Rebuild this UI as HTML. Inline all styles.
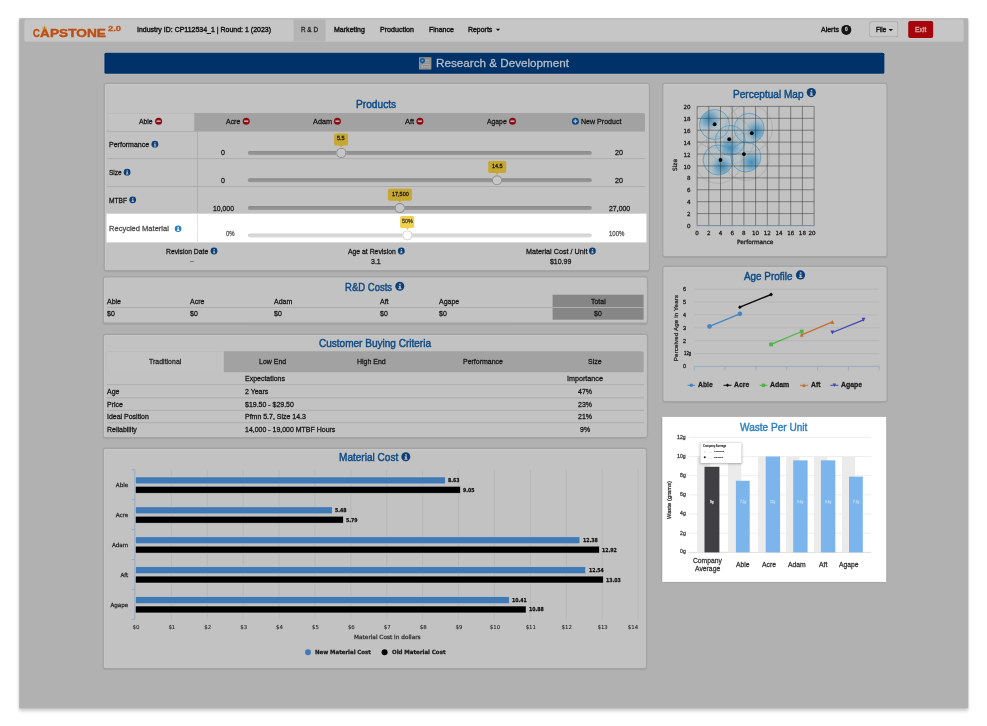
<!DOCTYPE html>
<html lang="en"><head><meta charset="utf-8"><title>Capstone 2.0 - Research &amp; Development</title>
<style>
html,body{margin:0;padding:0;background:#fff;}
body{width:987px;height:726px;overflow:hidden;position:relative;font-family:"Liberation Sans",sans-serif;}
#root{position:absolute;left:0;top:0;width:987px;height:726px;overflow:hidden;filter:blur(.35px);}
#root div,#root span,#root svg{position:absolute;left:0;top:0;}
#root svg{overflow:visible;}
.t{white-space:nowrap;line-height:1;-webkit-text-stroke:.28px currentColor;}
</style></head>
<body><div id="root">
<div style="transform:translate(19.30px,18.30px);width:948.60px;height:690.40px;background:#b1b1b1;box-shadow:0 2.2px 3.2px rgba(0,0,0,.2),0 0 1.6px rgba(0,0,0,.22);"></div>
<div style="transform:translate(24.50px,19.60px);width:939.00px;height:22.20px;background:#c6c6c6;border-radius:2px;box-shadow:0 0 0 .5px #b9b9b9;"></div>
<div style="transform:translate(293.50px,19.50px);width:31.70px;height:22.20px;background:#b4b4b4;"></div>
<div><span class="t" style="font-size:10.2px;font-weight:700;color:#bf4e10;font-family:'Liberation Sans', sans-serif;transform:scaleX(0.9240);transform-origin:0 50%;left:32.70px;top:28.60px;-webkit-text-stroke:.4px #bf4e10;">C</span><span class="t" style="font-size:10.2px;font-weight:700;color:#bf4e10;font-family:'Liberation Sans', sans-serif;transform:scaleX(1.3180);transform-origin:0 50%;left:39.50px;top:28.60px;-webkit-text-stroke:.4px #bf4e10;">A</span><span class="t" style="font-size:10.2px;font-weight:700;color:#bf4e10;font-family:'Liberation Sans', sans-serif;transform:scaleX(1.3399);transform-origin:0 50%;left:49.50px;top:28.60px;-webkit-text-stroke:.4px #bf4e10;">PSTONE</span></div>
<span class="t" style="font-size:7.8px;font-weight:700;color:#c0500f;font-family:'Liberation Sans', sans-serif;transform:scaleX(1.1988);transform-origin:0 50%;left:108.20px;top:24.58px;">2.0</span>
<svg style="transform:translate(41.5px,24.9px);" width="6" height="5" viewBox="0 0 6 5"><path d="M3 0.3 L5.6 4.4 L0.4 4.4 Z" fill="#d8a32c"/><circle cx="3" cy="3.1" r="0.75" fill="#c5521a"/></svg>
<span class="t" style="font-size:7.5px;font-weight:400;color:#151515;font-family:'Liberation Sans', sans-serif;transform:scaleX(0.9307);transform-origin:0 50%;left:137.20px;top:25.62px;-webkit-text-stroke:.42px #151515;">Industry ID: CP112534_1 | Round: 1 (2023)</span>
<span class="t" style="font-size:7.3px;font-weight:400;color:#222222;font-family:'Liberation Sans', sans-serif;transform:scaleX(0.8732);transform-origin:0 50%;left:301.00px;top:25.83px;">R &amp; D</span>
<span class="t" style="font-size:7.5px;font-weight:400;color:#151515;font-family:'Liberation Sans', sans-serif;transform:scaleX(0.9381);transform-origin:0 50%;left:333.50px;top:25.62px;-webkit-text-stroke:.42px #151515;">Marketing</span>
<span class="t" style="font-size:7.5px;font-weight:400;color:#151515;font-family:'Liberation Sans', sans-serif;transform:scaleX(0.9454);transform-origin:0 50%;left:379.80px;top:25.62px;-webkit-text-stroke:.42px #151515;">Production</span>
<span class="t" style="font-size:7.5px;font-weight:400;color:#151515;font-family:'Liberation Sans', sans-serif;transform:scaleX(0.9293);transform-origin:0 50%;left:428.90px;top:25.62px;-webkit-text-stroke:.42px #151515;">Finance</span>
<span class="t" style="font-size:7.5px;font-weight:400;color:#151515;font-family:'Liberation Sans', sans-serif;transform:scaleX(0.9252);transform-origin:0 50%;left:468.40px;top:25.62px;-webkit-text-stroke:.42px #151515;">Reports</span>
<svg style="transform:translate(495.5px,28.5px);" width="5" height="3" viewBox="0 0 5 3"><path d="M0.3 0.3 L4.7 0.3 L2.5 2.6 Z" fill="#151515"/></svg>
<span class="t" style="font-size:7.5px;font-weight:400;color:#151515;font-family:'Liberation Sans', sans-serif;transform:scaleX(0.9337);transform-origin:0 50%;left:821.00px;top:25.82px;-webkit-text-stroke:.42px #151515;">Alerts</span>
<div style="transform:translate(841.30px,24.90px);width:10.00px;height:10.00px;border-radius:50%;background:#161616;"></div>
<span class="t" style="font-size:5.2px;font-weight:700;color:#c8c8c8;font-family:'Liberation Sans', sans-serif;transform:scaleX(0.9300);transform-origin:0 50%;left:844.96px;top:27.45px;">0</span>
<div style="transform:translate(869.30px,21.30px);width:29.20px;height:16.40px;background:#c9c9c9;border-radius:2.5px;box-shadow:inset 0 0 0 .7px #9f9f9f;"></div>
<span class="t" style="font-size:7.5px;font-weight:400;color:#151515;font-family:'Liberation Sans', sans-serif;transform:scaleX(0.8599);transform-origin:0 50%;left:876.20px;top:25.72px;-webkit-text-stroke:.42px #151515;">File</span>
<svg style="transform:translate(888.3px,28.6px);" width="5" height="3" viewBox="0 0 5 3"><path d="M0.3 0.3 L4.7 0.3 L2.5 2.6 Z" fill="#151515"/></svg>
<div style="transform:translate(908.20px,20.90px);width:25.00px;height:16.80px;background:#a5060c;border-radius:2px;"></div>
<span class="t" style="font-size:7.2px;font-weight:400;color:#d9b5b5;font-family:'Liberation Sans', sans-serif;transform:scaleX(0.9429);transform-origin:0 50%;left:915.00px;top:25.78px;">Exit</span>
<div style="transform:translate(104.40px,52.70px);width:779.50px;height:20.60px;background:#00326a;border-radius:1.5px;box-shadow:0 0 0 .8px rgba(200,200,200,.35);"></div>
<svg style="transform:translate(419.0px,57.2px);" width="12.4" height="12.2" viewBox="0 0 12.4 12.2"><rect x="0" y="0" width="12.4" height="12.2" rx="0.6" fill="#9c9a97"/><rect x="0.9" y="0.9" width="10.6" height="10.4" fill="#8f8e8c"/><rect x="5.8" y="2.6" width="4.6" height="0.9" fill="#aeadab"/><rect x="5.8" y="4.4" width="4.6" height="0.9" fill="#a5a4a2"/><path d="M3.3 11 V7.1 H10.2 V11" fill="none" stroke="#b9b8b5" stroke-width="0.8"/><rect x="4.6" y="8.8" width="4.4" height="1.6" fill="#a3a2a0"/><circle cx="3.4" cy="3.4" r="2.6" fill="#185a94"/><circle cx="3.4" cy="3.4" r="1.0" fill="#6f9cc4"/><rect x="3.0" y="5.8" width="0.8" height="1.4" fill="#185a94"/></svg>
<span class="t" style="font-size:11.7px;font-weight:400;color:#b7bfc9;font-family:'Liberation Sans', sans-serif;transform:scaleX(0.9993);transform-origin:0 50%;left:436.10px;top:56.70px;">Research &amp; Development</span>
<div style="transform:translate(104.90px,84.00px);width:544.30px;height:185.60px;background:#c2c2c2;border-radius:1.6px;box-shadow:0 0 0 1.3px #a3a3a3,0 1.6px 1.2px rgba(0,0,0,.08),inset .8px .8px 0 rgba(255,255,255,.12);"></div>
<span class="t" style="font-size:10.7px;font-weight:400;color:#0f4c86;font-family:'Liberation Sans', sans-serif;transform:scaleX(0.9529);transform-origin:0 50%;left:356.20px;top:99.23px;-webkit-text-stroke:.45px #0f4c86;">Products</span>
<div style="transform:translate(194.00px,113.00px);width:451.00px;height:18.20px;background:#a2a2a2;border-radius:0 2px 0 0;"></div>
<div style="transform:translate(107.30px,113.00px);width:86.70px;height:18.60px;background:#c3c3c3;box-shadow:inset .8px .8px 0 0 #b8b8b8, inset -0.6px 0 0 #b8b8b8;border-radius:1.5px 1.5px 0 0;"></div>
<span class="t" style="font-size:7.5px;font-weight:400;color:#151515;font-family:'Liberation Sans', sans-serif;transform:scaleX(0.9057);transform-origin:0 50%;left:139.40px;top:118.43px;">Able</span>
<svg style="transform:translate(155.1px,117.7px);" width="7.0" height="7.0" viewBox="0 0 7.0 7.0"><circle cx="3.5" cy="3.5" r="3.5" fill="#8e0a10"/><rect x="1.47" y="2.73" width="4.06" height="1.54" fill="#bababa"/></svg>
<span class="t" style="font-size:7.5px;font-weight:400;color:#151515;font-family:'Liberation Sans', sans-serif;transform:scaleX(0.9273);transform-origin:0 50%;left:226.10px;top:118.43px;">Acre</span>
<svg style="transform:translate(242.7px,117.7px);" width="7.0" height="7.0" viewBox="0 0 7.0 7.0"><circle cx="3.5" cy="3.5" r="3.5" fill="#8e0a10"/><rect x="1.47" y="2.73" width="4.06" height="1.54" fill="#bababa"/></svg>
<span class="t" style="font-size:7.5px;font-weight:400;color:#151515;font-family:'Liberation Sans', sans-serif;transform:scaleX(0.9748);transform-origin:0 50%;left:313.40px;top:118.43px;">Adam</span>
<svg style="transform:translate(333.9px,117.7px);" width="7.0" height="7.0" viewBox="0 0 7.0 7.0"><circle cx="3.5" cy="3.5" r="3.5" fill="#8e0a10"/><rect x="1.47" y="2.73" width="4.06" height="1.54" fill="#bababa"/></svg>
<span class="t" style="font-size:7.5px;font-weight:400;color:#151515;font-family:'Liberation Sans', sans-serif;transform:scaleX(0.9922);transform-origin:0 50%;left:404.90px;top:118.43px;">Aft</span>
<svg style="transform:translate(416.4px,117.7px);" width="7.0" height="7.0" viewBox="0 0 7.0 7.0"><circle cx="3.5" cy="3.5" r="3.5" fill="#8e0a10"/><rect x="1.47" y="2.73" width="4.06" height="1.54" fill="#bababa"/></svg>
<span class="t" style="font-size:7.5px;font-weight:400;color:#151515;font-family:'Liberation Sans', sans-serif;transform:scaleX(0.9084);transform-origin:0 50%;left:487.00px;top:118.43px;">Agape</span>
<svg style="transform:translate(509.0px,117.7px);" width="7.0" height="7.0" viewBox="0 0 7.0 7.0"><circle cx="3.5" cy="3.5" r="3.5" fill="#8e0a10"/><rect x="1.47" y="2.73" width="4.06" height="1.54" fill="#bababa"/></svg>
<svg style="transform:translate(571.9px,117.7px);" width="7.0" height="7.0" viewBox="0 0 7.0 7.0"><circle cx="3.5" cy="3.5" r="3.5" fill="#0b4888"/><rect x="1.47" y="2.80" width="4.06" height="1.40" fill="#b4b4b4"/><rect x="2.80" y="1.47" width="1.40" height="4.06" fill="#b4b4b4"/></svg>
<span class="t" style="font-size:7.5px;font-weight:400;color:#151515;font-family:'Liberation Sans', sans-serif;transform:scaleX(0.9409);transform-origin:0 50%;left:581.20px;top:118.43px;">New Product</span>
<div style="transform:translate(107.30px,130.90px);width:537.70px;height:0.80px;background:#adadad;"></div>
<div style="transform:translate(107.30px,158.10px);width:537.70px;height:0.80px;background:#adadad;"></div>
<div style="transform:translate(107.30px,186.00px);width:537.70px;height:0.80px;background:#adadad;"></div>
<div style="transform:translate(107.30px,213.60px);width:537.70px;height:0.80px;background:#adadad;"></div>
<div style="transform:translate(197.00px,131.50px);width:0.80px;height:111.00px;background:#adadad;"></div>
<div style="transform:translate(106.40px,213.60px);width:539.60px;height:29.00px;background:#ffffff;box-shadow:0 .6px 1px rgba(0,0,0,.18);"></div>
<div style="transform:translate(197.00px,213.00px);width:0.70px;height:29.50px;background:#e4e4e4;"></div>
<span class="t" style="font-size:7.5px;font-weight:400;color:#151515;font-family:'Liberation Sans', sans-serif;transform:scaleX(0.9362);transform-origin:0 50%;left:108.90px;top:140.93px;">Performance</span>
<svg style="transform:translate(151.5px,140.8px);" width="6.8" height="6.8" viewBox="0 0 6.8 6.8"><circle cx="3.4" cy="3.4" r="3.4" fill="#0b3f78"/><rect x="2.92" y="1.43" width="1.22" height="1.16" fill="#b9b9b9"/><path d="M2.45 3.06 H4.22 V4.93 H4.76 V5.71 H2.24 V4.93 H2.86 V3.81 H2.45 Z" fill="#b9b9b9"/></svg>
<span class="t" style="font-size:7.5px;font-weight:400;color:#151515;font-family:'Liberation Sans', sans-serif;transform:scaleX(0.8634);transform-origin:0 50%;left:108.90px;top:169.12px;">Size</span>
<svg style="transform:translate(123.7px,168.8px);" width="6.8" height="6.8" viewBox="0 0 6.8 6.8"><circle cx="3.4" cy="3.4" r="3.4" fill="#0b3f78"/><rect x="2.92" y="1.43" width="1.22" height="1.16" fill="#b9b9b9"/><path d="M2.45 3.06 H4.22 V4.93 H4.76 V5.71 H2.24 V4.93 H2.86 V3.81 H2.45 Z" fill="#b9b9b9"/></svg>
<span class="t" style="font-size:7.5px;font-weight:400;color:#151515;font-family:'Liberation Sans', sans-serif;transform:scaleX(0.8863);transform-origin:0 50%;left:108.90px;top:196.53px;">MTBF</span>
<svg style="transform:translate(129.3px,196.4px);" width="6.8" height="6.8" viewBox="0 0 6.8 6.8"><circle cx="3.4" cy="3.4" r="3.4" fill="#0b3f78"/><rect x="2.92" y="1.43" width="1.22" height="1.16" fill="#b9b9b9"/><path d="M2.45 3.06 H4.22 V4.93 H4.76 V5.71 H2.24 V4.93 H2.86 V3.81 H2.45 Z" fill="#b9b9b9"/></svg>
<span class="t" style="font-size:7.9px;font-weight:400;color:#4d4d4d;font-family:'Liberation Sans', sans-serif;transform:scaleX(0.9551);transform-origin:0 50%;left:108.50px;top:224.51px;">Recycled Material</span>
<svg style="transform:translate(174.8px,225.5px);" width="6.6" height="6.6" viewBox="0 0 6.6 6.6"><circle cx="3.3" cy="3.3" r="3.3" fill="#2b7fc6"/><rect x="2.84" y="1.39" width="1.19" height="1.12" fill="#ffffff"/><path d="M2.38 2.97 H4.09 V4.78 H4.62 V5.54 H2.18 V4.78 H2.77 V3.70 H2.38 Z" fill="#ffffff"/></svg>
<div style="transform:translate(247.80px,150.90px);width:344.10px;height:4.10px;background:linear-gradient(#8a8a8a,#9a9a9a);border-radius:2px;"></div>
<div style="transform:translate(336.30px,147.90px);width:10.00px;height:10.00px;border-radius:50%;background:#c6c6c6;box-shadow:inset 0 0 0 .9px #8a8a8a;"></div>
<div style="transform:translate(334.10px,133.50px);width:14.30px;height:11.50px;background:#c6a730;border-radius:1.6px;"></div>
<svg style="transform:translate(339.1px,144.8px);" width="4.4" height="3" viewBox="0 0 4.4 3"><path d="M0 0 H4.4 L2.2 2.6 Z" fill="#c6a730"/></svg>
<span class="t" style="font-size:5.9px;font-weight:400;color:#1d1a10;font-family:'Liberation Sans', sans-serif;transform:scaleX(0.9300);transform-origin:0 50%;left:337.44px;top:136.46px;-webkit-text-stroke:.3px currentColor;">5.5</span>
<span class="t" style="font-size:7.6px;font-weight:400;color:#151515;font-family:'Liberation Sans', sans-serif;transform:scaleX(0.9300);transform-origin:0 50%;left:220.80px;top:149.37px;">0</span>
<span class="t" style="font-size:7.6px;font-weight:400;color:#151515;font-family:'Liberation Sans', sans-serif;transform:scaleX(0.9346);transform-origin:0 50%;left:614.70px;top:149.37px;">20</span>
<div style="transform:translate(247.80px,178.30px);width:344.10px;height:4.10px;background:linear-gradient(#8a8a8a,#9a9a9a);border-radius:2px;"></div>
<div style="transform:translate(492.00px,175.30px);width:10.00px;height:10.00px;border-radius:50%;background:#c6c6c6;box-shadow:inset 0 0 0 .9px #8a8a8a;"></div>
<div style="transform:translate(488.20px,160.90px);width:17.90px;height:11.50px;background:#c6a730;border-radius:1.6px;"></div>
<svg style="transform:translate(494.8px,172.2px);" width="4.4" height="3" viewBox="0 0 4.4 3"><path d="M0 0 H4.4 L2.2 2.6 Z" fill="#c6a730"/></svg>
<span class="t" style="font-size:5.9px;font-weight:400;color:#1d1a10;font-family:'Liberation Sans', sans-serif;transform:scaleX(0.9300);transform-origin:0 50%;left:491.82px;top:163.86px;-webkit-text-stroke:.3px currentColor;">14.5</span>
<span class="t" style="font-size:7.6px;font-weight:400;color:#151515;font-family:'Liberation Sans', sans-serif;transform:scaleX(0.9300);transform-origin:0 50%;left:220.80px;top:176.77px;">0</span>
<span class="t" style="font-size:7.6px;font-weight:400;color:#151515;font-family:'Liberation Sans', sans-serif;transform:scaleX(0.9346);transform-origin:0 50%;left:614.70px;top:176.77px;">20</span>
<div style="transform:translate(247.80px,206.10px);width:344.10px;height:4.10px;background:linear-gradient(#8a8a8a,#9a9a9a);border-radius:2px;"></div>
<div style="transform:translate(394.80px,203.10px);width:10.00px;height:10.00px;border-radius:50%;background:#c6c6c6;box-shadow:inset 0 0 0 .9px #8a8a8a;"></div>
<div style="transform:translate(387.90px,188.70px);width:24.30px;height:11.50px;background:#c6a730;border-radius:1.6px;"></div>
<svg style="transform:translate(397.6px,200.0px);" width="4.4" height="3" viewBox="0 0 4.4 3"><path d="M0 0 H4.4 L2.2 2.6 Z" fill="#c6a730"/></svg>
<span class="t" style="font-size:5.9px;font-weight:400;color:#1d1a10;font-family:'Liberation Sans', sans-serif;transform:scaleX(0.9300);transform-origin:0 50%;left:391.67px;top:191.66px;-webkit-text-stroke:.3px currentColor;">17,500</span>
<span class="t" style="font-size:7.6px;font-weight:400;color:#151515;font-family:'Liberation Sans', sans-serif;transform:scaleX(0.9038);transform-origin:0 50%;left:212.60px;top:204.57px;">10,000</span>
<span class="t" style="font-size:7.6px;font-weight:400;color:#151515;font-family:'Liberation Sans', sans-serif;transform:scaleX(0.9124);transform-origin:0 50%;left:608.60px;top:204.57px;">27,000</span>
<div style="transform:translate(247.80px,233.40px);width:344.10px;height:4.10px;background:linear-gradient(#d0d0d0,#dcdcdc);border-radius:2px;"></div>
<div style="transform:translate(402.40px,230.40px);width:10.00px;height:10.00px;border-radius:50%;background:#ffffff;box-shadow:inset 0 0 0 .9px #c9c9c9;"></div>
<div style="transform:translate(400.10px,216.00px);width:14.10px;height:11.50px;background:#f0d04e;border-radius:1.6px;"></div>
<svg style="transform:translate(405.2px,227.3px);" width="4.4" height="3" viewBox="0 0 4.4 3"><path d="M0 0 H4.4 L2.2 2.6 Z" fill="#f0d04e"/></svg>
<span class="t" style="font-size:5.9px;font-weight:400;color:#4a4433;font-family:'Liberation Sans', sans-serif;transform:scaleX(0.9300);transform-origin:0 50%;left:401.66px;top:218.96px;-webkit-text-stroke:.3px currentColor;">50%</span>
<span class="t" style="font-size:7.0px;font-weight:400;color:#555555;font-family:'Liberation Sans', sans-serif;transform:scaleX(0.8593);transform-origin:0 50%;left:226.00px;top:229.89px;">0%</span>
<span class="t" style="font-size:7.0px;font-weight:400;color:#555555;font-family:'Liberation Sans', sans-serif;transform:scaleX(0.8600);transform-origin:0 50%;left:608.60px;top:229.89px;">100%</span>
<span class="t" style="font-size:7.5px;font-weight:400;color:#151515;font-family:'Liberation Sans', sans-serif;transform:scaleX(0.9036);transform-origin:0 50%;left:166.30px;top:247.72px;">Revision Date</span>
<svg style="transform:translate(210.6px,247.6px);" width="6.8" height="6.8" viewBox="0 0 6.8 6.8"><circle cx="3.4" cy="3.4" r="3.4" fill="#0b3f78"/><rect x="2.92" y="1.43" width="1.22" height="1.16" fill="#b9b9b9"/><path d="M2.45 3.06 H4.22 V4.93 H4.76 V5.71 H2.24 V4.93 H2.86 V3.81 H2.45 Z" fill="#b9b9b9"/></svg>
<span class="t" style="font-size:7.5px;font-weight:400;color:#333;font-family:'Liberation Sans', sans-serif;transform:scaleX(0.9300);transform-origin:0 50%;left:190.06px;top:257.32px;-webkit-text-stroke:0;">–</span>
<span class="t" style="font-size:7.5px;font-weight:400;color:#151515;font-family:'Liberation Sans', sans-serif;transform:scaleX(0.9118);transform-origin:0 50%;left:347.70px;top:247.72px;">Age at Revision</span>
<svg style="transform:translate(397.9px,247.6px);" width="6.8" height="6.8" viewBox="0 0 6.8 6.8"><circle cx="3.4" cy="3.4" r="3.4" fill="#0b3f78"/><rect x="2.92" y="1.43" width="1.22" height="1.16" fill="#b9b9b9"/><path d="M2.45 3.06 H4.22 V4.93 H4.76 V5.71 H2.24 V4.93 H2.86 V3.81 H2.45 Z" fill="#b9b9b9"/></svg>
<span class="t" style="font-size:7.5px;font-weight:400;color:#151515;font-family:'Liberation Sans', sans-serif;transform:scaleX(0.9300);transform-origin:0 50%;left:371.15px;top:257.62px;">3.1</span>
<span class="t" style="font-size:7.5px;font-weight:400;color:#151515;font-family:'Liberation Sans', sans-serif;transform:scaleX(0.9627);transform-origin:0 50%;left:525.90px;top:247.72px;">Material Cost / Unit</span>
<svg style="transform:translate(589.0px,247.6px);" width="6.8" height="6.8" viewBox="0 0 6.8 6.8"><circle cx="3.4" cy="3.4" r="3.4" fill="#0b3f78"/><rect x="2.92" y="1.43" width="1.22" height="1.16" fill="#b9b9b9"/><path d="M2.45 3.06 H4.22 V4.93 H4.76 V5.71 H2.24 V4.93 H2.86 V3.81 H2.45 Z" fill="#b9b9b9"/></svg>
<span class="t" style="font-size:7.5px;font-weight:400;color:#151515;font-family:'Liberation Sans', sans-serif;transform:scaleX(0.9280);transform-origin:0 50%;left:550.20px;top:257.62px;">$10.99</span>
<div style="transform:translate(103.90px,277.50px);width:542.70px;height:44.60px;background:#c2c2c2;border-radius:1.6px;box-shadow:0 0 0 1.3px #a3a3a3,0 1.6px 1.2px rgba(0,0,0,.08),inset .8px .8px 0 rgba(255,255,255,.12);"></div>
<span class="t" style="font-size:10.7px;font-weight:400;color:#0f4c86;font-family:'Liberation Sans', sans-serif;transform:scaleX(0.8910);transform-origin:0 50%;left:344.70px;top:281.53px;-webkit-text-stroke:.45px #0f4c86;">R&amp;D Costs</span>
<svg style="transform:translate(395.3px,281.7px);" width="9.0" height="9.0" viewBox="0 0 9.0 9.0"><circle cx="4.5" cy="4.5" r="4.5" fill="#0b3f78"/><rect x="3.87" y="1.89" width="1.62" height="1.53" fill="#b9b9b9"/><path d="M3.24 4.05 H5.58 V6.52 H6.30 V7.56 H2.97 V6.52 H3.78 V5.04 H3.24 Z" fill="#b9b9b9"/></svg>
<div style="transform:translate(552.60px,294.70px);width:91.20px;height:25.10px;background:#868686;"></div>
<div style="transform:translate(107.00px,307.00px);width:536.80px;height:0.80px;background:#adadad;"></div>
<span class="t" style="font-size:7.5px;font-weight:400;color:#151515;font-family:'Liberation Sans', sans-serif;transform:scaleX(0.9300);transform-origin:0 50%;left:107.00px;top:297.62px;">Able</span>
<span class="t" style="font-size:7.5px;font-weight:400;color:#151515;font-family:'Liberation Sans', sans-serif;transform:scaleX(0.9300);transform-origin:0 50%;left:107.00px;top:310.32px;">$0</span>
<span class="t" style="font-size:7.5px;font-weight:400;color:#151515;font-family:'Liberation Sans', sans-serif;transform:scaleX(0.9300);transform-origin:0 50%;left:189.70px;top:297.62px;">Acre</span>
<span class="t" style="font-size:7.5px;font-weight:400;color:#151515;font-family:'Liberation Sans', sans-serif;transform:scaleX(0.9300);transform-origin:0 50%;left:189.70px;top:310.32px;">$0</span>
<span class="t" style="font-size:7.5px;font-weight:400;color:#151515;font-family:'Liberation Sans', sans-serif;transform:scaleX(0.9300);transform-origin:0 50%;left:274.20px;top:297.62px;">Adam</span>
<span class="t" style="font-size:7.5px;font-weight:400;color:#151515;font-family:'Liberation Sans', sans-serif;transform:scaleX(0.9300);transform-origin:0 50%;left:274.20px;top:310.32px;">$0</span>
<span class="t" style="font-size:7.5px;font-weight:400;color:#151515;font-family:'Liberation Sans', sans-serif;transform:scaleX(0.9300);transform-origin:0 50%;left:380.20px;top:297.62px;">Aft</span>
<span class="t" style="font-size:7.5px;font-weight:400;color:#151515;font-family:'Liberation Sans', sans-serif;transform:scaleX(0.9300);transform-origin:0 50%;left:380.20px;top:310.32px;">$0</span>
<span class="t" style="font-size:7.5px;font-weight:400;color:#151515;font-family:'Liberation Sans', sans-serif;transform:scaleX(0.9300);transform-origin:0 50%;left:439.30px;top:297.62px;">Agape</span>
<span class="t" style="font-size:7.5px;font-weight:400;color:#151515;font-family:'Liberation Sans', sans-serif;transform:scaleX(0.9300);transform-origin:0 50%;left:439.30px;top:310.32px;">$0</span>
<span class="t" style="font-size:7.5px;font-weight:400;color:#151515;font-family:'Liberation Sans', sans-serif;transform:scaleX(0.9300);transform-origin:0 50%;left:590.83px;top:297.62px;">Total</span>
<span class="t" style="font-size:7.5px;font-weight:400;color:#151515;font-family:'Liberation Sans', sans-serif;transform:scaleX(0.9300);transform-origin:0 50%;left:594.32px;top:310.32px;">$0</span>
<div style="transform:translate(103.90px,334.90px);width:542.60px;height:102.10px;background:#c2c2c2;border-radius:1.6px;box-shadow:0 0 0 1.3px #a3a3a3,0 1.6px 1.2px rgba(0,0,0,.08),inset .8px .8px 0 rgba(255,255,255,.12);"></div>
<span class="t" style="font-size:10.7px;font-weight:400;color:#0f4c86;font-family:'Liberation Sans', sans-serif;transform:scaleX(0.9381);transform-origin:0 50%;left:318.80px;top:337.83px;-webkit-text-stroke:.45px #0f4c86;">Customer Buying Criteria</span>
<div style="transform:translate(223.70px,351.20px);width:420.10px;height:20.70px;background:#a2a2a2;border-radius:0 2px 0 0;"></div>
<div style="transform:translate(105.60px,351.20px);width:118.10px;height:21.00px;background:#c3c3c3;box-shadow:inset .8px .8px 0 0 #b8b8b8, inset -0.6px 0 0 #b8b8b8;border-radius:1.5px 1.5px 0 0;"></div>
<span class="t" style="font-size:7.5px;font-weight:400;color:#262626;font-family:'Liberation Sans', sans-serif;transform:scaleX(0.9300);transform-origin:0 50%;left:148.54px;top:357.92px;">Traditional</span>
<span class="t" style="font-size:7.5px;font-weight:400;color:#151515;font-family:'Liberation Sans', sans-serif;transform:scaleX(0.9300);transform-origin:0 50%;left:258.73px;top:357.92px;">Low End</span>
<span class="t" style="font-size:7.5px;font-weight:400;color:#151515;font-family:'Liberation Sans', sans-serif;transform:scaleX(0.9300);transform-origin:0 50%;left:356.75px;top:357.92px;">High End</span>
<span class="t" style="font-size:7.5px;font-weight:400;color:#151515;font-family:'Liberation Sans', sans-serif;transform:scaleX(0.9300);transform-origin:0 50%;left:463.33px;top:357.92px;">Performance</span>
<span class="t" style="font-size:7.5px;font-weight:400;color:#151515;font-family:'Liberation Sans', sans-serif;transform:scaleX(0.9300);transform-origin:0 50%;left:588.11px;top:357.92px;">Size</span>
<div style="transform:translate(107.00px,384.20px);width:536.80px;height:0.80px;background:#adadad;"></div>
<div style="transform:translate(107.00px,397.30px);width:536.80px;height:0.80px;background:#adadad;"></div>
<div style="transform:translate(107.00px,409.80px);width:536.80px;height:0.80px;background:#adadad;"></div>
<div style="transform:translate(107.00px,422.20px);width:536.80px;height:0.80px;background:#adadad;"></div>
<span class="t" style="font-size:7.5px;font-weight:400;color:#151515;font-family:'Liberation Sans', sans-serif;transform:scaleX(0.9300);transform-origin:0 50%;left:245.30px;top:374.82px;">Expectations</span>
<span class="t" style="font-size:7.5px;font-weight:400;color:#151515;font-family:'Liberation Sans', sans-serif;transform:scaleX(0.9565);transform-origin:0 50%;left:566.90px;top:374.82px;">Importance</span>
<span class="t" style="font-size:7.5px;font-weight:400;color:#151515;font-family:'Liberation Sans', sans-serif;transform:scaleX(0.9300);transform-origin:0 50%;left:107.00px;top:387.72px;">Age</span>
<span class="t" style="font-size:7.5px;font-weight:400;color:#151515;font-family:'Liberation Sans', sans-serif;transform:scaleX(0.9300);transform-origin:0 50%;left:245.30px;top:387.72px;">2 Years</span>
<span class="t" style="font-size:7.5px;font-weight:400;color:#151515;font-family:'Liberation Sans', sans-serif;transform:scaleX(0.9300);transform-origin:0 50%;left:577.62px;top:387.72px;">47%</span>
<span class="t" style="font-size:7.5px;font-weight:400;color:#151515;font-family:'Liberation Sans', sans-serif;transform:scaleX(0.9300);transform-origin:0 50%;left:107.00px;top:400.52px;">Price</span>
<span class="t" style="font-size:7.5px;font-weight:400;color:#151515;font-family:'Liberation Sans', sans-serif;transform:scaleX(0.9300);transform-origin:0 50%;left:245.30px;top:400.52px;">$19.50 - $29.50</span>
<span class="t" style="font-size:7.5px;font-weight:400;color:#151515;font-family:'Liberation Sans', sans-serif;transform:scaleX(0.9300);transform-origin:0 50%;left:577.62px;top:400.52px;">23%</span>
<span class="t" style="font-size:7.5px;font-weight:400;color:#151515;font-family:'Liberation Sans', sans-serif;transform:scaleX(0.9300);transform-origin:0 50%;left:107.00px;top:413.02px;">Ideal Position</span>
<span class="t" style="font-size:7.5px;font-weight:400;color:#151515;font-family:'Liberation Sans', sans-serif;transform:scaleX(0.9300);transform-origin:0 50%;left:245.30px;top:413.02px;">Pfmn 5.7, Size 14.3</span>
<span class="t" style="font-size:7.5px;font-weight:400;color:#151515;font-family:'Liberation Sans', sans-serif;transform:scaleX(0.9300);transform-origin:0 50%;left:577.62px;top:413.02px;">21%</span>
<span class="t" style="font-size:7.5px;font-weight:400;color:#151515;font-family:'Liberation Sans', sans-serif;transform:scaleX(0.9300);transform-origin:0 50%;left:107.00px;top:425.82px;">Reliability</span>
<span class="t" style="font-size:7.5px;font-weight:400;color:#151515;font-family:'Liberation Sans', sans-serif;transform:scaleX(0.9300);transform-origin:0 50%;left:245.30px;top:425.82px;">14,000 - 19,000 MTBF Hours</span>
<span class="t" style="font-size:7.5px;font-weight:400;color:#151515;font-family:'Liberation Sans', sans-serif;transform:scaleX(0.9300);transform-origin:0 50%;left:579.56px;top:425.82px;">9%</span>
<div style="transform:translate(103.90px,448.90px);width:542.10px;height:218.60px;background:#c2c2c2;border-radius:1.6px;box-shadow:0 0 0 1.3px #a3a3a3,0 1.6px 1.2px rgba(0,0,0,.08),inset .8px .8px 0 rgba(255,255,255,.12);"></div>
<span class="t" style="font-size:10.7px;font-weight:400;color:#0f4c86;font-family:'Liberation Sans', sans-serif;transform:scaleX(0.9417);transform-origin:0 50%;left:338.90px;top:451.63px;-webkit-text-stroke:.45px #0f4c86;">Material Cost</span>
<svg style="transform:translate(401.3px,452.3px);" width="9.0" height="9.0" viewBox="0 0 9.0 9.0"><circle cx="4.5" cy="4.5" r="4.5" fill="#0b3f78"/><rect x="3.87" y="1.89" width="1.62" height="1.53" fill="#b9b9b9"/><path d="M3.24 4.05 H5.58 V6.52 H6.30 V7.56 H2.97 V6.52 H3.78 V5.04 H3.24 Z" fill="#b9b9b9"/></svg>
<svg style="transform:translate(104px,448px);" width="546" height="220" viewBox="0 0 546 220"><line x1="67.35" y1="21.70" x2="67.35" y2="171.40" stroke="#b4b4b4" stroke-width="0.8"/><line x1="103.25" y1="21.70" x2="103.25" y2="171.40" stroke="#b4b4b4" stroke-width="0.8"/><line x1="139.15" y1="21.70" x2="139.15" y2="171.40" stroke="#b4b4b4" stroke-width="0.8"/><line x1="175.05" y1="21.70" x2="175.05" y2="171.40" stroke="#b4b4b4" stroke-width="0.8"/><line x1="210.95" y1="21.70" x2="210.95" y2="171.40" stroke="#b4b4b4" stroke-width="0.8"/><line x1="246.85" y1="21.70" x2="246.85" y2="171.40" stroke="#b4b4b4" stroke-width="0.8"/><line x1="282.75" y1="21.70" x2="282.75" y2="171.40" stroke="#b4b4b4" stroke-width="0.8"/><line x1="318.65" y1="21.70" x2="318.65" y2="171.40" stroke="#b4b4b4" stroke-width="0.8"/><line x1="354.55" y1="21.70" x2="354.55" y2="171.40" stroke="#b4b4b4" stroke-width="0.8"/><line x1="390.45" y1="21.70" x2="390.45" y2="171.40" stroke="#b4b4b4" stroke-width="0.8"/><line x1="426.35" y1="21.70" x2="426.35" y2="171.40" stroke="#b4b4b4" stroke-width="0.8"/><line x1="462.25" y1="21.70" x2="462.25" y2="171.40" stroke="#b4b4b4" stroke-width="0.8"/><line x1="498.15" y1="21.70" x2="498.15" y2="171.40" stroke="#b4b4b4" stroke-width="0.8"/><line x1="534.05" y1="21.70" x2="534.05" y2="171.40" stroke="#b4b4b4" stroke-width="0.8"/><path d="M30.85 21.70 V171.40" stroke="#8ea6c4" stroke-width="0.8" fill="none"/><line x1="27.65" y1="21.70" x2="30.85" y2="21.70" stroke="#8ea6c4" stroke-width="0.8"/><line x1="27.65" y1="51.64" x2="30.85" y2="51.64" stroke="#8ea6c4" stroke-width="0.8"/><line x1="27.65" y1="81.58" x2="30.85" y2="81.58" stroke="#8ea6c4" stroke-width="0.8"/><line x1="27.65" y1="111.52" x2="30.85" y2="111.52" stroke="#8ea6c4" stroke-width="0.8"/><line x1="27.65" y1="141.46" x2="30.85" y2="141.46" stroke="#8ea6c4" stroke-width="0.8"/><line x1="27.65" y1="171.40" x2="30.85" y2="171.40" stroke="#8ea6c4" stroke-width="0.8"/><rect x="31.45" y="28.97" width="309.82" height="6.9" fill="#3f7ab6" stroke="#cfcfcf" stroke-width="0.5"/><rect x="31.45" y="38.27" width="324.90" height="6.9" fill="#000" stroke="#cfcfcf" stroke-width="0.5"/><rect x="31.45" y="58.91" width="196.73" height="6.9" fill="#3f7ab6" stroke="#cfcfcf" stroke-width="0.5"/><rect x="31.45" y="68.21" width="207.86" height="6.9" fill="#000" stroke="#cfcfcf" stroke-width="0.5"/><rect x="31.45" y="88.85" width="444.44" height="6.9" fill="#3f7ab6" stroke="#cfcfcf" stroke-width="0.5"/><rect x="31.45" y="98.15" width="463.83" height="6.9" fill="#000" stroke="#cfcfcf" stroke-width="0.5"/><rect x="31.45" y="118.79" width="450.19" height="6.9" fill="#3f7ab6" stroke="#cfcfcf" stroke-width="0.5"/><rect x="31.45" y="128.09" width="467.78" height="6.9" fill="#000" stroke="#cfcfcf" stroke-width="0.5"/><rect x="31.45" y="148.73" width="373.72" height="6.9" fill="#3f7ab6" stroke="#cfcfcf" stroke-width="0.5"/><rect x="31.45" y="158.03" width="390.59" height="6.9" fill="#000" stroke="#cfcfcf" stroke-width="0.5"/></svg>
<span class="t" style="font-size:5.6px;font-weight:400;color:#2a2a2a;font-family:'DejaVu Sans', 'Liberation Sans', sans-serif;left:115.82px;top:482.93px;">Able</span>
<span class="t" style="font-size:5.4px;font-weight:700;color:#111;font-family:'DejaVu Sans', 'Liberation Sans', sans-serif;transform:scaleX(0.8600);transform-origin:0 50%;left:448.27px;top:478.31px;">8.63</span>
<span class="t" style="font-size:5.4px;font-weight:700;color:#111;font-family:'DejaVu Sans', 'Liberation Sans', sans-serif;transform:scaleX(0.8600);transform-origin:0 50%;left:463.35px;top:487.71px;">9.05</span>
<span class="t" style="font-size:5.6px;font-weight:400;color:#2a2a2a;font-family:'DejaVu Sans', 'Liberation Sans', sans-serif;left:115.78px;top:512.87px;">Acre</span>
<span class="t" style="font-size:5.4px;font-weight:700;color:#111;font-family:'DejaVu Sans', 'Liberation Sans', sans-serif;transform:scaleX(0.8600);transform-origin:0 50%;left:335.18px;top:508.25px;">5.48</span>
<span class="t" style="font-size:5.4px;font-weight:700;color:#111;font-family:'DejaVu Sans', 'Liberation Sans', sans-serif;transform:scaleX(0.8600);transform-origin:0 50%;left:346.31px;top:517.65px;">5.79</span>
<span class="t" style="font-size:5.6px;font-weight:400;color:#2a2a2a;font-family:'DejaVu Sans', 'Liberation Sans', sans-serif;left:112.04px;top:542.81px;">Adam</span>
<span class="t" style="font-size:5.4px;font-weight:700;color:#111;font-family:'DejaVu Sans', 'Liberation Sans', sans-serif;transform:scaleX(0.8600);transform-origin:0 50%;left:582.89px;top:538.19px;">12.38</span>
<span class="t" style="font-size:5.4px;font-weight:700;color:#111;font-family:'DejaVu Sans', 'Liberation Sans', sans-serif;transform:scaleX(0.8600);transform-origin:0 50%;left:602.28px;top:547.59px;">12.92</span>
<span class="t" style="font-size:5.6px;font-weight:400;color:#2a2a2a;font-family:'DejaVu Sans', 'Liberation Sans', sans-serif;left:120.50px;top:572.75px;">Aft</span>
<span class="t" style="font-size:5.4px;font-weight:700;color:#111;font-family:'DejaVu Sans', 'Liberation Sans', sans-serif;transform:scaleX(0.8600);transform-origin:0 50%;left:588.64px;top:568.13px;">12.54</span>
<span class="t" style="font-size:5.4px;font-weight:700;color:#111;font-family:'DejaVu Sans', 'Liberation Sans', sans-serif;transform:scaleX(0.8600);transform-origin:0 50%;left:606.23px;top:577.53px;">13.03</span>
<span class="t" style="font-size:5.6px;font-weight:400;color:#2a2a2a;font-family:'DejaVu Sans', 'Liberation Sans', sans-serif;left:110.39px;top:602.69px;">Agape</span>
<span class="t" style="font-size:5.4px;font-weight:700;color:#111;font-family:'DejaVu Sans', 'Liberation Sans', sans-serif;transform:scaleX(0.8600);transform-origin:0 50%;left:512.17px;top:598.07px;">10.41</span>
<span class="t" style="font-size:5.4px;font-weight:700;color:#111;font-family:'DejaVu Sans', 'Liberation Sans', sans-serif;transform:scaleX(0.8600);transform-origin:0 50%;left:529.04px;top:607.47px;">10.88</span>
<span class="t" style="font-size:5.4px;font-weight:400;color:#2a2a2a;font-family:'DejaVu Sans', 'Liberation Sans', sans-serif;left:132.52px;top:624.74px;-webkit-text-stroke:.1px #2a2a2a;">$0</span>
<span class="t" style="font-size:5.4px;font-weight:400;color:#2a2a2a;font-family:'DejaVu Sans', 'Liberation Sans', sans-serif;left:168.42px;top:624.74px;-webkit-text-stroke:.1px #2a2a2a;">$1</span>
<span class="t" style="font-size:5.4px;font-weight:400;color:#2a2a2a;font-family:'DejaVu Sans', 'Liberation Sans', sans-serif;left:204.32px;top:624.74px;-webkit-text-stroke:.1px #2a2a2a;">$2</span>
<span class="t" style="font-size:5.4px;font-weight:400;color:#2a2a2a;font-family:'DejaVu Sans', 'Liberation Sans', sans-serif;left:240.22px;top:624.74px;-webkit-text-stroke:.1px #2a2a2a;">$3</span>
<span class="t" style="font-size:5.4px;font-weight:400;color:#2a2a2a;font-family:'DejaVu Sans', 'Liberation Sans', sans-serif;left:276.12px;top:624.74px;-webkit-text-stroke:.1px #2a2a2a;">$4</span>
<span class="t" style="font-size:5.4px;font-weight:400;color:#2a2a2a;font-family:'DejaVu Sans', 'Liberation Sans', sans-serif;left:312.02px;top:624.74px;-webkit-text-stroke:.1px #2a2a2a;">$5</span>
<span class="t" style="font-size:5.4px;font-weight:400;color:#2a2a2a;font-family:'DejaVu Sans', 'Liberation Sans', sans-serif;left:347.92px;top:624.74px;-webkit-text-stroke:.1px #2a2a2a;">$6</span>
<span class="t" style="font-size:5.4px;font-weight:400;color:#2a2a2a;font-family:'DejaVu Sans', 'Liberation Sans', sans-serif;left:383.82px;top:624.74px;-webkit-text-stroke:.1px #2a2a2a;">$7</span>
<span class="t" style="font-size:5.4px;font-weight:400;color:#2a2a2a;font-family:'DejaVu Sans', 'Liberation Sans', sans-serif;left:419.72px;top:624.74px;-webkit-text-stroke:.1px #2a2a2a;">$8</span>
<span class="t" style="font-size:5.4px;font-weight:400;color:#2a2a2a;font-family:'DejaVu Sans', 'Liberation Sans', sans-serif;left:455.62px;top:624.74px;-webkit-text-stroke:.1px #2a2a2a;">$9</span>
<span class="t" style="font-size:5.4px;font-weight:400;color:#2a2a2a;font-family:'DejaVu Sans', 'Liberation Sans', sans-serif;left:489.80px;top:624.74px;-webkit-text-stroke:.1px #2a2a2a;">$10</span>
<span class="t" style="font-size:5.4px;font-weight:400;color:#2a2a2a;font-family:'DejaVu Sans', 'Liberation Sans', sans-serif;left:525.70px;top:624.74px;-webkit-text-stroke:.1px #2a2a2a;">$11</span>
<span class="t" style="font-size:5.4px;font-weight:400;color:#2a2a2a;font-family:'DejaVu Sans', 'Liberation Sans', sans-serif;left:561.60px;top:624.74px;-webkit-text-stroke:.1px #2a2a2a;">$12</span>
<span class="t" style="font-size:5.4px;font-weight:400;color:#2a2a2a;font-family:'DejaVu Sans', 'Liberation Sans', sans-serif;left:597.50px;top:624.74px;-webkit-text-stroke:.1px #2a2a2a;">$13</span>
<span class="t" style="font-size:5.4px;font-weight:400;color:#2a2a2a;font-family:'DejaVu Sans', 'Liberation Sans', sans-serif;left:627.85px;top:624.74px;-webkit-text-stroke:.1px #2a2a2a;">$14</span>
<span class="t" style="font-size:5.6px;font-weight:400;color:#333;font-family:'DejaVu Sans', 'Liberation Sans', sans-serif;transform:scaleX(1.0353);transform-origin:0 50%;left:353.70px;top:635.26px;">Material Cost in dollars</span>
<div style="transform:translate(305.00px,649.20px);width:6.40px;height:6.40px;border-radius:50%;background:#3f7ab6;"></div>
<span class="t" style="font-size:5.6px;font-weight:700;color:#1c1c1c;font-family:'DejaVu Sans', 'Liberation Sans', sans-serif;transform:scaleX(0.9693);transform-origin:0 50%;left:314.70px;top:650.36px;">New Material Cost</span>
<div style="transform:translate(381.60px,649.20px);width:6.40px;height:6.40px;border-radius:50%;background:#000;"></div>
<span class="t" style="font-size:5.6px;font-weight:700;color:#1c1c1c;font-family:'DejaVu Sans', 'Liberation Sans', sans-serif;transform:scaleX(0.9780);transform-origin:0 50%;left:391.60px;top:650.36px;">Old Material Cost</span>
<div style="transform:translate(663.40px,84.00px);width:223.30px;height:171.70px;background:#c2c2c2;border-radius:1.6px;box-shadow:0 0 0 1.3px #a3a3a3,0 1.6px 1.2px rgba(0,0,0,.08),inset .8px .8px 0 rgba(255,255,255,.12);"></div>
<span class="t" style="font-size:10.7px;font-weight:400;color:#0f4c86;font-family:'Liberation Sans', sans-serif;transform:scaleX(0.9418);transform-origin:0 50%;left:733.20px;top:88.73px;-webkit-text-stroke:.45px #0f4c86;">Perceptual Map</span>
<svg style="transform:translate(806.7px,88.0px);" width="9.2" height="9.2" viewBox="0 0 9.2 9.2"><circle cx="4.6" cy="4.6" r="4.6" fill="#0b3f78"/><rect x="3.96" y="1.93" width="1.66" height="1.56" fill="#b9b9b9"/><path d="M3.31 4.14 H5.70 V6.67 H6.44 V7.73 H3.04 V6.67 H3.86 V5.15 H3.31 Z" fill="#b9b9b9"/></svg>
<svg style="transform:translate(663px,83px);" width="224" height="173" viewBox="0 0 224 173"><defs><radialGradient id="sg0" gradientUnits="userSpaceOnUse" cx="46.04" cy="36.04" r="12.00"><stop offset="0" stop-color="#2b83b6" stop-opacity="0.85"/><stop offset="0.5" stop-color="#3d90c0" stop-opacity="0.5"/><stop offset="1" stop-color="#6aaed2" stop-opacity="0"/></radialGradient><clipPath id="sc0"><circle cx="51.50" cy="41.50" r="15.00"/></clipPath><radialGradient id="sg1" gradientUnits="userSpaceOnUse" cx="66.81" cy="65.20" r="12.00"><stop offset="0" stop-color="#2b83b6" stop-opacity="0.85"/><stop offset="0.5" stop-color="#3d90c0" stop-opacity="0.5"/><stop offset="1" stop-color="#6aaed2" stop-opacity="0"/></radialGradient><clipPath id="sc1"><circle cx="67.20" cy="57.40" r="15.00"/></clipPath><radialGradient id="sg2" gradientUnits="userSpaceOnUse" cx="93.12" cy="48.42" r="12.00"><stop offset="0" stop-color="#2b83b6" stop-opacity="0.85"/><stop offset="0.5" stop-color="#3d90c0" stop-opacity="0.5"/><stop offset="1" stop-color="#6aaed2" stop-opacity="0"/></radialGradient><clipPath id="sc2"><circle cx="86.10" cy="45.30" r="15.00"/></clipPath><radialGradient id="sg3" gradientUnits="userSpaceOnUse" cx="58.77" cy="83.86" r="12.00"><stop offset="0" stop-color="#2b83b6" stop-opacity="0.85"/><stop offset="0.5" stop-color="#3d90c0" stop-opacity="0.5"/><stop offset="1" stop-color="#6aaed2" stop-opacity="0"/></radialGradient><clipPath id="sc3"><circle cx="55.10" cy="77.00" r="15.00"/></clipPath><radialGradient id="sg4" gradientUnits="userSpaceOnUse" cx="88.36" cy="79.46" r="12.00"><stop offset="0" stop-color="#2b83b6" stop-opacity="0.85"/><stop offset="0.5" stop-color="#3d90c0" stop-opacity="0.5"/><stop offset="1" stop-color="#6aaed2" stop-opacity="0"/></radialGradient><clipPath id="sc4"><circle cx="82.90" cy="74.00" r="15.00"/></clipPath></defs><clipPath id="gclip"><rect x="34.10" y="23.40" width="117.00" height="119.10"/></clipPath><g clip-path="url(#gclip)"><circle cx="86.10" cy="45.30" r="23.40" fill="none" stroke="#9d9d9d" stroke-width="0.5"/><circle cx="55.10" cy="77.00" r="23.40" fill="none" stroke="#9d9d9d" stroke-width="0.5"/><circle cx="82.90" cy="74.00" r="23.40" fill="none" stroke="#9d9d9d" stroke-width="0.5"/><circle cx="51.50" cy="41.50" r="23.40" fill="none" stroke="#9d9d9d" stroke-width="0.5"/><circle cx="67.20" cy="57.40" r="23.40" fill="none" stroke="#9d9d9d" stroke-width="0.5"/></g><circle cx="51.50" cy="41.50" r="15.00" fill="#8fb9d3" fill-opacity="0.22"/><rect x="36.50" y="26.50" width="30.00" height="30.00" fill="url(#sg0)" clip-path="url(#sc0)"/><circle cx="51.50" cy="41.50" r="15.00" fill="none" stroke="#4d98c2" stroke-width="0.75"/><circle cx="67.20" cy="57.40" r="15.00" fill="#8fb9d3" fill-opacity="0.22"/><rect x="52.20" y="42.40" width="30.00" height="30.00" fill="url(#sg1)" clip-path="url(#sc1)"/><circle cx="67.20" cy="57.40" r="15.00" fill="none" stroke="#4d98c2" stroke-width="0.75"/><circle cx="86.10" cy="45.30" r="15.00" fill="#8fb9d3" fill-opacity="0.22"/><rect x="71.10" y="30.30" width="30.00" height="30.00" fill="url(#sg2)" clip-path="url(#sc2)"/><circle cx="86.10" cy="45.30" r="15.00" fill="none" stroke="#4d98c2" stroke-width="0.75"/><circle cx="55.10" cy="77.00" r="15.00" fill="#8fb9d3" fill-opacity="0.22"/><rect x="40.10" y="62.00" width="30.00" height="30.00" fill="url(#sg3)" clip-path="url(#sc3)"/><circle cx="55.10" cy="77.00" r="15.00" fill="none" stroke="#4d98c2" stroke-width="0.75"/><circle cx="82.90" cy="74.00" r="15.00" fill="#8fb9d3" fill-opacity="0.22"/><rect x="67.90" y="59.00" width="30.00" height="30.00" fill="url(#sg4)" clip-path="url(#sc4)"/><circle cx="82.90" cy="74.00" r="15.00" fill="none" stroke="#4d98c2" stroke-width="0.75"/><line x1="34.10" y1="23.40" x2="34.10" y2="142.50" stroke="#333" stroke-width="0.5"/><line x1="34.10" y1="142.50" x2="151.10" y2="142.50" stroke="#333" stroke-width="0.5"/><line x1="45.80" y1="23.40" x2="45.80" y2="142.50" stroke="#333" stroke-width="0.5"/><line x1="34.10" y1="130.59" x2="151.10" y2="130.59" stroke="#333" stroke-width="0.5"/><line x1="57.50" y1="23.40" x2="57.50" y2="142.50" stroke="#333" stroke-width="0.5"/><line x1="34.10" y1="118.68" x2="151.10" y2="118.68" stroke="#333" stroke-width="0.5"/><line x1="69.20" y1="23.40" x2="69.20" y2="142.50" stroke="#333" stroke-width="0.5"/><line x1="34.10" y1="106.77" x2="151.10" y2="106.77" stroke="#333" stroke-width="0.5"/><line x1="80.90" y1="23.40" x2="80.90" y2="142.50" stroke="#333" stroke-width="0.5"/><line x1="34.10" y1="94.86" x2="151.10" y2="94.86" stroke="#333" stroke-width="0.5"/><line x1="92.60" y1="23.40" x2="92.60" y2="142.50" stroke="#333" stroke-width="0.5"/><line x1="34.10" y1="82.95" x2="151.10" y2="82.95" stroke="#333" stroke-width="0.5"/><line x1="104.30" y1="23.40" x2="104.30" y2="142.50" stroke="#333" stroke-width="0.5"/><line x1="34.10" y1="71.04" x2="151.10" y2="71.04" stroke="#333" stroke-width="0.5"/><line x1="116.00" y1="23.40" x2="116.00" y2="142.50" stroke="#333" stroke-width="0.5"/><line x1="34.10" y1="59.13" x2="151.10" y2="59.13" stroke="#333" stroke-width="0.5"/><line x1="127.70" y1="23.40" x2="127.70" y2="142.50" stroke="#333" stroke-width="0.5"/><line x1="34.10" y1="47.22" x2="151.10" y2="47.22" stroke="#333" stroke-width="0.5"/><line x1="139.40" y1="23.40" x2="139.40" y2="142.50" stroke="#333" stroke-width="0.5"/><line x1="34.10" y1="35.31" x2="151.10" y2="35.31" stroke="#333" stroke-width="0.5"/><line x1="151.10" y1="23.40" x2="151.10" y2="142.50" stroke="#333" stroke-width="0.5"/><line x1="34.10" y1="23.40" x2="151.10" y2="23.40" stroke="#333" stroke-width="0.5"/><line x1="34.10" y1="142.80" x2="151.10" y2="142.80" stroke="#8ea8c6" stroke-width="0.7"/><line x1="34.10" y1="142.80" x2="34.10" y2="145.10" stroke="#9db4cc" stroke-width="0.6"/><line x1="45.80" y1="142.80" x2="45.80" y2="145.10" stroke="#9db4cc" stroke-width="0.6"/><line x1="57.50" y1="142.80" x2="57.50" y2="145.10" stroke="#9db4cc" stroke-width="0.6"/><line x1="69.20" y1="142.80" x2="69.20" y2="145.10" stroke="#9db4cc" stroke-width="0.6"/><line x1="80.90" y1="142.80" x2="80.90" y2="145.10" stroke="#9db4cc" stroke-width="0.6"/><line x1="92.60" y1="142.80" x2="92.60" y2="145.10" stroke="#9db4cc" stroke-width="0.6"/><line x1="104.30" y1="142.80" x2="104.30" y2="145.10" stroke="#9db4cc" stroke-width="0.6"/><line x1="116.00" y1="142.80" x2="116.00" y2="145.10" stroke="#9db4cc" stroke-width="0.6"/><line x1="127.70" y1="142.80" x2="127.70" y2="145.10" stroke="#9db4cc" stroke-width="0.6"/><line x1="139.40" y1="142.80" x2="139.40" y2="145.10" stroke="#9db4cc" stroke-width="0.6"/><line x1="151.10" y1="142.80" x2="151.10" y2="145.10" stroke="#9db4cc" stroke-width="0.6"/><circle cx="51.65" cy="41.27" r="1.9" fill="#000"/><circle cx="66.27" cy="56.15" r="1.9" fill="#000"/><circle cx="88.80" cy="50.20" r="1.9" fill="#000"/><circle cx="80.90" cy="71.04" r="1.9" fill="#000"/><circle cx="57.50" cy="77.00" r="1.9" fill="#000"/></svg>
<span class="t" style="font-size:5.6px;font-weight:400;color:#1a1a1a;font-family:'DejaVu Sans', 'Liberation Sans', sans-serif;left:687.04px;top:224.06px;">0</span>
<span class="t" style="font-size:5.6px;font-weight:400;color:#1a1a1a;font-family:'DejaVu Sans', 'Liberation Sans', sans-serif;left:695.32px;top:230.56px;">0</span>
<span class="t" style="font-size:5.6px;font-weight:400;color:#1a1a1a;font-family:'DejaVu Sans', 'Liberation Sans', sans-serif;left:687.04px;top:212.15px;">2</span>
<span class="t" style="font-size:5.6px;font-weight:400;color:#1a1a1a;font-family:'DejaVu Sans', 'Liberation Sans', sans-serif;left:707.02px;top:230.56px;">2</span>
<span class="t" style="font-size:5.6px;font-weight:400;color:#1a1a1a;font-family:'DejaVu Sans', 'Liberation Sans', sans-serif;left:687.04px;top:200.24px;">4</span>
<span class="t" style="font-size:5.6px;font-weight:400;color:#1a1a1a;font-family:'DejaVu Sans', 'Liberation Sans', sans-serif;left:718.72px;top:230.56px;">4</span>
<span class="t" style="font-size:5.6px;font-weight:400;color:#1a1a1a;font-family:'DejaVu Sans', 'Liberation Sans', sans-serif;left:687.04px;top:188.33px;">6</span>
<span class="t" style="font-size:5.6px;font-weight:400;color:#1a1a1a;font-family:'DejaVu Sans', 'Liberation Sans', sans-serif;left:730.42px;top:230.56px;">6</span>
<span class="t" style="font-size:5.6px;font-weight:400;color:#1a1a1a;font-family:'DejaVu Sans', 'Liberation Sans', sans-serif;left:687.04px;top:176.42px;">8</span>
<span class="t" style="font-size:5.6px;font-weight:400;color:#1a1a1a;font-family:'DejaVu Sans', 'Liberation Sans', sans-serif;left:742.12px;top:230.56px;">8</span>
<span class="t" style="font-size:5.6px;font-weight:400;color:#1a1a1a;font-family:'DejaVu Sans', 'Liberation Sans', sans-serif;left:683.48px;top:164.51px;">10</span>
<span class="t" style="font-size:5.6px;font-weight:400;color:#1a1a1a;font-family:'DejaVu Sans', 'Liberation Sans', sans-serif;left:752.04px;top:230.56px;">10</span>
<span class="t" style="font-size:5.6px;font-weight:400;color:#1a1a1a;font-family:'DejaVu Sans', 'Liberation Sans', sans-serif;left:683.48px;top:152.60px;">12</span>
<span class="t" style="font-size:5.6px;font-weight:400;color:#1a1a1a;font-family:'DejaVu Sans', 'Liberation Sans', sans-serif;left:763.74px;top:230.56px;">12</span>
<span class="t" style="font-size:5.6px;font-weight:400;color:#1a1a1a;font-family:'DejaVu Sans', 'Liberation Sans', sans-serif;left:683.48px;top:140.69px;">14</span>
<span class="t" style="font-size:5.6px;font-weight:400;color:#1a1a1a;font-family:'DejaVu Sans', 'Liberation Sans', sans-serif;left:775.44px;top:230.56px;">14</span>
<span class="t" style="font-size:5.6px;font-weight:400;color:#1a1a1a;font-family:'DejaVu Sans', 'Liberation Sans', sans-serif;left:683.48px;top:128.78px;">16</span>
<span class="t" style="font-size:5.6px;font-weight:400;color:#1a1a1a;font-family:'DejaVu Sans', 'Liberation Sans', sans-serif;left:787.14px;top:230.56px;">16</span>
<span class="t" style="font-size:5.6px;font-weight:400;color:#1a1a1a;font-family:'DejaVu Sans', 'Liberation Sans', sans-serif;left:683.48px;top:116.87px;">18</span>
<span class="t" style="font-size:5.6px;font-weight:400;color:#1a1a1a;font-family:'DejaVu Sans', 'Liberation Sans', sans-serif;left:798.84px;top:230.56px;">18</span>
<span class="t" style="font-size:5.6px;font-weight:400;color:#1a1a1a;font-family:'DejaVu Sans', 'Liberation Sans', sans-serif;left:683.48px;top:104.96px;">20</span>
<span class="t" style="font-size:5.6px;font-weight:400;color:#1a1a1a;font-family:'DejaVu Sans', 'Liberation Sans', sans-serif;left:808.44px;top:230.56px;">20</span>
<span class="t" style="font-size:5.8px;font-weight:400;color:#1a1a1a;font-family:'DejaVu Sans', 'Liberation Sans', sans-serif;transform:scaleX(0.9909);transform-origin:0 50%;left:737.20px;top:240.28px;">Performance</span>
<span class="t" style="font-size:5.8px;font-weight:400;color:#1a1a1a;font-family:'DejaVu Sans', 'Liberation Sans', sans-serif;left:675.70px;top:165.30px;transform:translate(-50%,-50%) rotate(-90deg);">Size</span>
<div style="transform:translate(663.50px,267.00px);width:223.20px;height:133.50px;background:#c2c2c2;border-radius:1.6px;box-shadow:0 0 0 1.3px #a3a3a3,0 1.6px 1.2px rgba(0,0,0,.08),inset .8px .8px 0 rgba(255,255,255,.12);"></div>
<span class="t" style="font-size:10.7px;font-weight:400;color:#0f4c86;font-family:'Liberation Sans', sans-serif;transform:scaleX(0.9258);transform-origin:0 50%;left:744.20px;top:270.93px;-webkit-text-stroke:.45px #0f4c86;">Age Profile</span>
<svg style="transform:translate(795.9px,270.3px);" width="9.2" height="9.2" viewBox="0 0 9.2 9.2"><circle cx="4.6" cy="4.6" r="4.6" fill="#0b3f78"/><rect x="3.96" y="1.93" width="1.66" height="1.56" fill="#b9b9b9"/><path d="M3.31 4.14 H5.70 V6.67 H6.44 V7.73 H3.04 V6.67 H3.86 V5.15 H3.31 Z" fill="#b9b9b9"/></svg>
<svg style="transform:translate(663px,266px);" width="224" height="136" viewBox="0 0 224 136"><line x1="31.30" y1="87.53" x2="216.20" y2="87.53" stroke="#b3b3b3" stroke-width="0.8"/><line x1="31.30" y1="74.66" x2="216.20" y2="74.66" stroke="#b3b3b3" stroke-width="0.8"/><line x1="31.30" y1="61.79" x2="216.20" y2="61.79" stroke="#b3b3b3" stroke-width="0.8"/><line x1="31.30" y1="48.92" x2="216.20" y2="48.92" stroke="#b3b3b3" stroke-width="0.8"/><line x1="31.30" y1="36.05" x2="216.20" y2="36.05" stroke="#b3b3b3" stroke-width="0.8"/><line x1="31.30" y1="23.18" x2="216.20" y2="23.18" stroke="#b3b3b3" stroke-width="0.8"/><line x1="31.30" y1="100.40" x2="216.20" y2="100.40" stroke="#8fa7c6" stroke-width="0.8"/><line x1="31.30" y1="100.40" x2="31.30" y2="104.40" stroke="#8fa7c6" stroke-width="0.8"/><line x1="62.12" y1="100.40" x2="62.12" y2="104.40" stroke="#8fa7c6" stroke-width="0.8"/><line x1="92.94" y1="100.40" x2="92.94" y2="104.40" stroke="#8fa7c6" stroke-width="0.8"/><line x1="123.76" y1="100.40" x2="123.76" y2="104.40" stroke="#8fa7c6" stroke-width="0.8"/><line x1="154.58" y1="100.40" x2="154.58" y2="104.40" stroke="#8fa7c6" stroke-width="0.8"/><line x1="185.40" y1="100.40" x2="185.40" y2="104.40" stroke="#8fa7c6" stroke-width="0.8"/><line x1="216.22" y1="100.40" x2="216.22" y2="104.40" stroke="#8fa7c6" stroke-width="0.8"/><line x1="46.50" y1="60.40" x2="76.90" y2="47.80" stroke="#4585c6" stroke-width="1.35"/><circle cx="46.50" cy="60.40" r="2.30" fill="#4585c6"/><circle cx="76.90" cy="47.80" r="2.30" fill="#4585c6"/><line x1="76.90" y1="41.20" x2="108.10" y2="28.50" stroke="#0a0a0a" stroke-width="1.35"/><path d="M76.90 39.30 L78.80 41.20 L76.90 43.10 L75.00 41.20 Z" fill="#0a0a0a"/><path d="M108.10 26.60 L110.00 28.50 L108.10 30.40 L106.20 28.50 Z" fill="#0a0a0a"/><line x1="108.10" y1="78.40" x2="138.70" y2="65.50" stroke="#4fb548" stroke-width="1.35"/><rect x="106.20" y="76.50" width="3.80" height="3.80" fill="#4fb548"/><rect x="136.80" y="63.60" width="3.80" height="3.80" fill="#4fb548"/><line x1="138.70" y1="68.80" x2="169.40" y2="55.90" stroke="#c4702e" stroke-width="1.35"/><path d="M138.70 66.80 L140.70 70.80 L136.70 70.80 Z" fill="#c4702e"/><path d="M169.40 53.90 L171.40 57.90 L167.40 57.90 Z" fill="#c4702e"/><line x1="169.40" y1="66.50" x2="200.50" y2="53.80" stroke="#4347b5" stroke-width="1.35"/><path d="M167.40 64.50 L171.40 64.50 L169.40 68.50 Z" fill="#4347b5"/><path d="M198.50 51.80 L202.50 51.80 L200.50 55.80 Z" fill="#4347b5"/><line x1="24.50" y1="119.30" x2="32.10" y2="119.30" stroke="#4585c6" stroke-width="1"/><circle cx="28.30" cy="119.30" r="1.70" fill="#4585c6"/><line x1="60.50" y1="119.30" x2="68.50" y2="119.30" stroke="#0a0a0a" stroke-width="1"/><path d="M64.50 117.60 L66.20 119.30 L64.50 121.00 L62.80 119.30 Z" fill="#0a0a0a"/><line x1="96.70" y1="119.30" x2="104.30" y2="119.30" stroke="#4fb548" stroke-width="1"/><rect x="98.80" y="117.60" width="3.40" height="3.40" fill="#4fb548"/><line x1="137.00" y1="119.30" x2="144.80" y2="119.30" stroke="#c4702e" stroke-width="1"/><path d="M140.90 117.60 L142.60 121.00 L139.20 121.00 Z" fill="#c4702e"/><line x1="167.30" y1="119.30" x2="175.40" y2="119.30" stroke="#4347b5" stroke-width="1"/><path d="M169.65 117.60 L173.05 117.60 L171.35 121.00 Z" fill="#4347b5"/></svg>
<span class="t" style="font-size:5.9px;font-weight:400;color:#222;font-family:'Liberation Sans', sans-serif;transform:scaleX(0.9300);transform-origin:0 50%;left:683.17px;top:364.47px;">0</span>
<span class="t" style="font-size:4.6px;font-weight:400;color:#222;font-family:'Liberation Sans', sans-serif;transform:scaleX(0.9300);transform-origin:0 50%;left:684.03px;top:352.29px;">12g</span>
<span class="t" style="font-size:5.9px;font-weight:400;color:#222;font-family:'Liberation Sans', sans-serif;transform:scaleX(0.9300);transform-origin:0 50%;left:683.17px;top:338.73px;">2</span>
<span class="t" style="font-size:5.9px;font-weight:400;color:#222;font-family:'Liberation Sans', sans-serif;transform:scaleX(0.9300);transform-origin:0 50%;left:683.17px;top:325.86px;">3</span>
<span class="t" style="font-size:5.9px;font-weight:400;color:#222;font-family:'Liberation Sans', sans-serif;transform:scaleX(0.9300);transform-origin:0 50%;left:683.17px;top:312.99px;">4</span>
<span class="t" style="font-size:5.9px;font-weight:400;color:#222;font-family:'Liberation Sans', sans-serif;transform:scaleX(0.9300);transform-origin:0 50%;left:683.17px;top:300.12px;">5</span>
<span class="t" style="font-size:5.9px;font-weight:400;color:#222;font-family:'Liberation Sans', sans-serif;transform:scaleX(0.9300);transform-origin:0 50%;left:683.17px;top:287.25px;">6</span>
<span class="t" style="font-size:6.1px;font-weight:400;color:#2a2a2a;font-family:'Liberation Sans', sans-serif;left:676.10px;top:327.80px;transform:translate(-50%,-50%) rotate(-90deg);letter-spacing:0.162px;">Perceived Age in Years</span>
<span class="t" style="font-size:7.1px;font-weight:700;color:#1c1c1c;font-family:'Liberation Sans', sans-serif;transform:scaleX(0.9561);transform-origin:0 50%;left:698.10px;top:382.14px;">Able</span>
<span class="t" style="font-size:7.1px;font-weight:700;color:#1c1c1c;font-family:'Liberation Sans', sans-serif;transform:scaleX(0.9632);transform-origin:0 50%;left:734.10px;top:382.14px;">Acre</span>
<span class="t" style="font-size:7.1px;font-weight:700;color:#1c1c1c;font-family:'Liberation Sans', sans-serif;transform:scaleX(0.9788);transform-origin:0 50%;left:770.30px;top:382.14px;">Adam</span>
<span class="t" style="font-size:7.1px;font-weight:700;color:#1c1c1c;font-family:'Liberation Sans', sans-serif;transform:scaleX(0.9534);transform-origin:0 50%;left:810.80px;top:382.14px;">Aft</span>
<span class="t" style="font-size:7.1px;font-weight:700;color:#1c1c1c;font-family:'Liberation Sans', sans-serif;transform:scaleX(0.9729);transform-origin:0 50%;left:841.20px;top:382.14px;">Agape</span>
<div style="transform:translate(662.20px,416.90px);width:224.30px;height:164.60px;background:#ffffff;box-shadow:0 .6px 2.2px rgba(0,0,0,.38);"></div>
<span class="t" style="font-size:10.9px;font-weight:400;color:#2a7fbf;font-family:'Liberation Sans', sans-serif;transform:scaleX(0.9255);transform-origin:0 50%;left:739.70px;top:421.92px;-webkit-text-stroke:.4px #2a7fbf;">Waste Per Unit</span>
<svg style="transform:translate(661px,416px);" width="227" height="167" viewBox="0 0 227 167"><line x1="27.70" y1="136.40" x2="210.20" y2="136.40" stroke="#d0d0d0" stroke-width="0.7"/><line x1="27.70" y1="117.22" x2="210.20" y2="117.22" stroke="#e6e6e6" stroke-width="0.7"/><line x1="27.70" y1="98.04" x2="210.20" y2="98.04" stroke="#e6e6e6" stroke-width="0.7"/><line x1="27.70" y1="78.86" x2="210.20" y2="78.86" stroke="#e6e6e6" stroke-width="0.7"/><line x1="27.70" y1="59.68" x2="210.20" y2="59.68" stroke="#e6e6e6" stroke-width="0.7"/><line x1="27.70" y1="40.50" x2="210.20" y2="40.50" stroke="#e6e6e6" stroke-width="0.7"/><line x1="27.70" y1="21.32" x2="210.20" y2="21.32" stroke="#e6e6e6" stroke-width="0.7"/><rect x="36.10" y="40.50" width="13.2" height="95.90" fill="#ebebeb"/><rect x="43.50" y="50.76" width="14.90" height="85.64" fill="#404044"/><rect x="67.00" y="40.50" width="13.2" height="95.90" fill="#ebebeb"/><rect x="74.90" y="64.76" width="13.80" height="71.64" fill="#7cb5ec"/><rect x="97.10" y="40.50" width="13.2" height="95.90" fill="#ebebeb"/><rect x="104.70" y="40.50" width="14.40" height="95.90" fill="#7cb5ec"/><rect x="125.10" y="40.50" width="13.2" height="95.90" fill="#ebebeb"/><rect x="132.20" y="44.34" width="14.40" height="92.06" fill="#7cb5ec"/><rect x="153.10" y="40.50" width="13.2" height="95.90" fill="#ebebeb"/><rect x="159.90" y="44.34" width="14.40" height="92.06" fill="#7cb5ec"/><rect x="180.90" y="40.50" width="13.2" height="95.90" fill="#ebebeb"/><rect x="188.00" y="60.64" width="13.80" height="75.76" fill="#7cb5ec"/></svg>
<span class="t" style="font-size:5.6px;font-weight:400;color:#444;font-family:'Liberation Sans', sans-serif;transform:scaleX(0.9300);transform-origin:0 50%;left:679.50px;top:548.83px;">0g</span>
<span class="t" style="font-size:5.6px;font-weight:400;color:#444;font-family:'Liberation Sans', sans-serif;transform:scaleX(0.9300);transform-origin:0 50%;left:679.50px;top:530.55px;">2g</span>
<span class="t" style="font-size:5.6px;font-weight:400;color:#444;font-family:'Liberation Sans', sans-serif;transform:scaleX(0.9300);transform-origin:0 50%;left:679.50px;top:511.37px;">4g</span>
<span class="t" style="font-size:5.6px;font-weight:400;color:#444;font-family:'Liberation Sans', sans-serif;transform:scaleX(0.9300);transform-origin:0 50%;left:679.50px;top:492.19px;">6g</span>
<span class="t" style="font-size:5.6px;font-weight:400;color:#444;font-family:'Liberation Sans', sans-serif;transform:scaleX(0.9300);transform-origin:0 50%;left:679.50px;top:473.01px;">8g</span>
<span class="t" style="font-size:5.6px;font-weight:400;color:#444;font-family:'Liberation Sans', sans-serif;transform:scaleX(0.9300);transform-origin:0 50%;left:676.61px;top:453.83px;">10g</span>
<span class="t" style="font-size:5.6px;font-weight:400;color:#444;font-family:'Liberation Sans', sans-serif;transform:scaleX(0.9300);transform-origin:0 50%;left:676.61px;top:434.65px;">12g</span>
<span class="t" style="font-size:5.6px;font-weight:400;color:#333;font-family:'Liberation Sans', sans-serif;left:670.40px;top:499.90px;transform:translate(-50%,-50%) rotate(-90deg);letter-spacing:0.128px;">Waste (grams)</span>
<span class="t" style="font-size:3.4px;font-weight:400;color:#d8d8d8;font-family:'Liberation Sans', sans-serif;transform:scaleX(0.9300);transform-origin:0 50%;left:710.19px;top:501.10px;">9g</span>
<span class="t" style="font-size:3.4px;font-weight:400;color:#b4d5f3;font-family:'Liberation Sans', sans-serif;transform:scaleX(0.9300);transform-origin:0 50%;left:739.73px;top:501.10px;">7.5g</span>
<span class="t" style="font-size:3.4px;font-weight:400;color:#b4d5f3;font-family:'Liberation Sans', sans-serif;transform:scaleX(0.9300);transform-origin:0 50%;left:770.26px;top:501.10px;">10g</span>
<span class="t" style="font-size:3.4px;font-weight:400;color:#b4d5f3;font-family:'Liberation Sans', sans-serif;transform:scaleX(0.9300);transform-origin:0 50%;left:797.33px;top:501.10px;">9.6g</span>
<span class="t" style="font-size:3.4px;font-weight:400;color:#b4d5f3;font-family:'Liberation Sans', sans-serif;transform:scaleX(0.9300);transform-origin:0 50%;left:825.03px;top:501.10px;">9.6g</span>
<span class="t" style="font-size:3.4px;font-weight:400;color:#b4d5f3;font-family:'Liberation Sans', sans-serif;transform:scaleX(0.9300);transform-origin:0 50%;left:852.83px;top:501.10px;">7.9g</span>
<span class="t" style="font-size:7.3px;font-weight:400;color:#333;font-family:'Liberation Sans', sans-serif;transform:scaleX(0.9221);transform-origin:0 50%;left:693.20px;top:557.03px;">Company</span>
<span class="t" style="font-size:7.3px;font-weight:400;color:#333;font-family:'Liberation Sans', sans-serif;transform:scaleX(0.9317);transform-origin:0 50%;left:695.20px;top:564.83px;">Average</span>
<span class="t" style="font-size:7.3px;font-weight:400;color:#333;font-family:'Liberation Sans', sans-serif;transform:scaleX(0.9300);transform-origin:0 50%;left:735.91px;top:560.93px;">Able</span>
<span class="t" style="font-size:7.3px;font-weight:400;color:#333;font-family:'Liberation Sans', sans-serif;transform:scaleX(0.9300);transform-origin:0 50%;left:762.12px;top:560.93px;">Acre</span>
<span class="t" style="font-size:7.3px;font-weight:400;color:#333;font-family:'Liberation Sans', sans-serif;transform:scaleX(0.9300);transform-origin:0 50%;left:788.04px;top:560.93px;">Adam</span>
<span class="t" style="font-size:7.3px;font-weight:400;color:#333;font-family:'Liberation Sans', sans-serif;transform:scaleX(0.9300);transform-origin:0 50%;left:818.65px;top:560.93px;">Aft</span>
<span class="t" style="font-size:7.3px;font-weight:400;color:#333;font-family:'Liberation Sans', sans-serif;transform:scaleX(0.9300);transform-origin:0 50%;left:838.58px;top:560.93px;">Agape</span>
<div style="transform:translate(700.50px,443.00px);width:40.60px;height:20.10px;background:#ffffff;border-radius:1px;box-shadow:0 0.5px 2.5px rgba(0,0,0,.3);"></div>
<span class="t" style="font-size:2.6px;font-weight:700;color:#333;font-family:'Liberation Sans', sans-serif;transform:scaleX(1.0313);transform-origin:0 50%;left:703.40px;top:445.62px;-webkit-text-stroke:.1px #333;">Company Average</span>
<span class="t" style="font-size:2.4px;font-weight:700;color:#333;font-family:'Liberation Sans', sans-serif;transform:scaleX(1.0903);transform-origin:0 50%;left:713.80px;top:450.93px;-webkit-text-stroke:.1px #333;">10g/unit</span>
<span class="t" style="font-size:2.4px;font-weight:700;color:#333;font-family:'Liberation Sans', sans-serif;transform:scaleX(1.1219);transform-origin:0 50%;left:713.80px;top:456.83px;-webkit-text-stroke:.1px #333;">9g/unit</span>
<div style="transform:translate(704.10px,450.80px);width:1.60px;height:1.60px;border-radius:50%;background:#e6e6e6;"></div>
<div style="transform:translate(703.75px,456.35px);width:2.30px;height:2.30px;border-radius:50%;background:#222;"></div>
<span class="t" style="font-size:2.2px;font-weight:400;color:#cfcfcf;font-family:'Liberation Sans', sans-serif;transform:scaleX(0.8632);transform-origin:0 50%;left:707.50px;top:451.03px;-webkit-text-stroke:0;">Max:</span>
<span class="t" style="font-size:2.2px;font-weight:400;color:#cfcfcf;font-family:'Liberation Sans', sans-serif;transform:scaleX(0.9439);transform-origin:0 50%;left:707.50px;top:456.93px;-webkit-text-stroke:0;">Avg:</span>
</div></body></html>
